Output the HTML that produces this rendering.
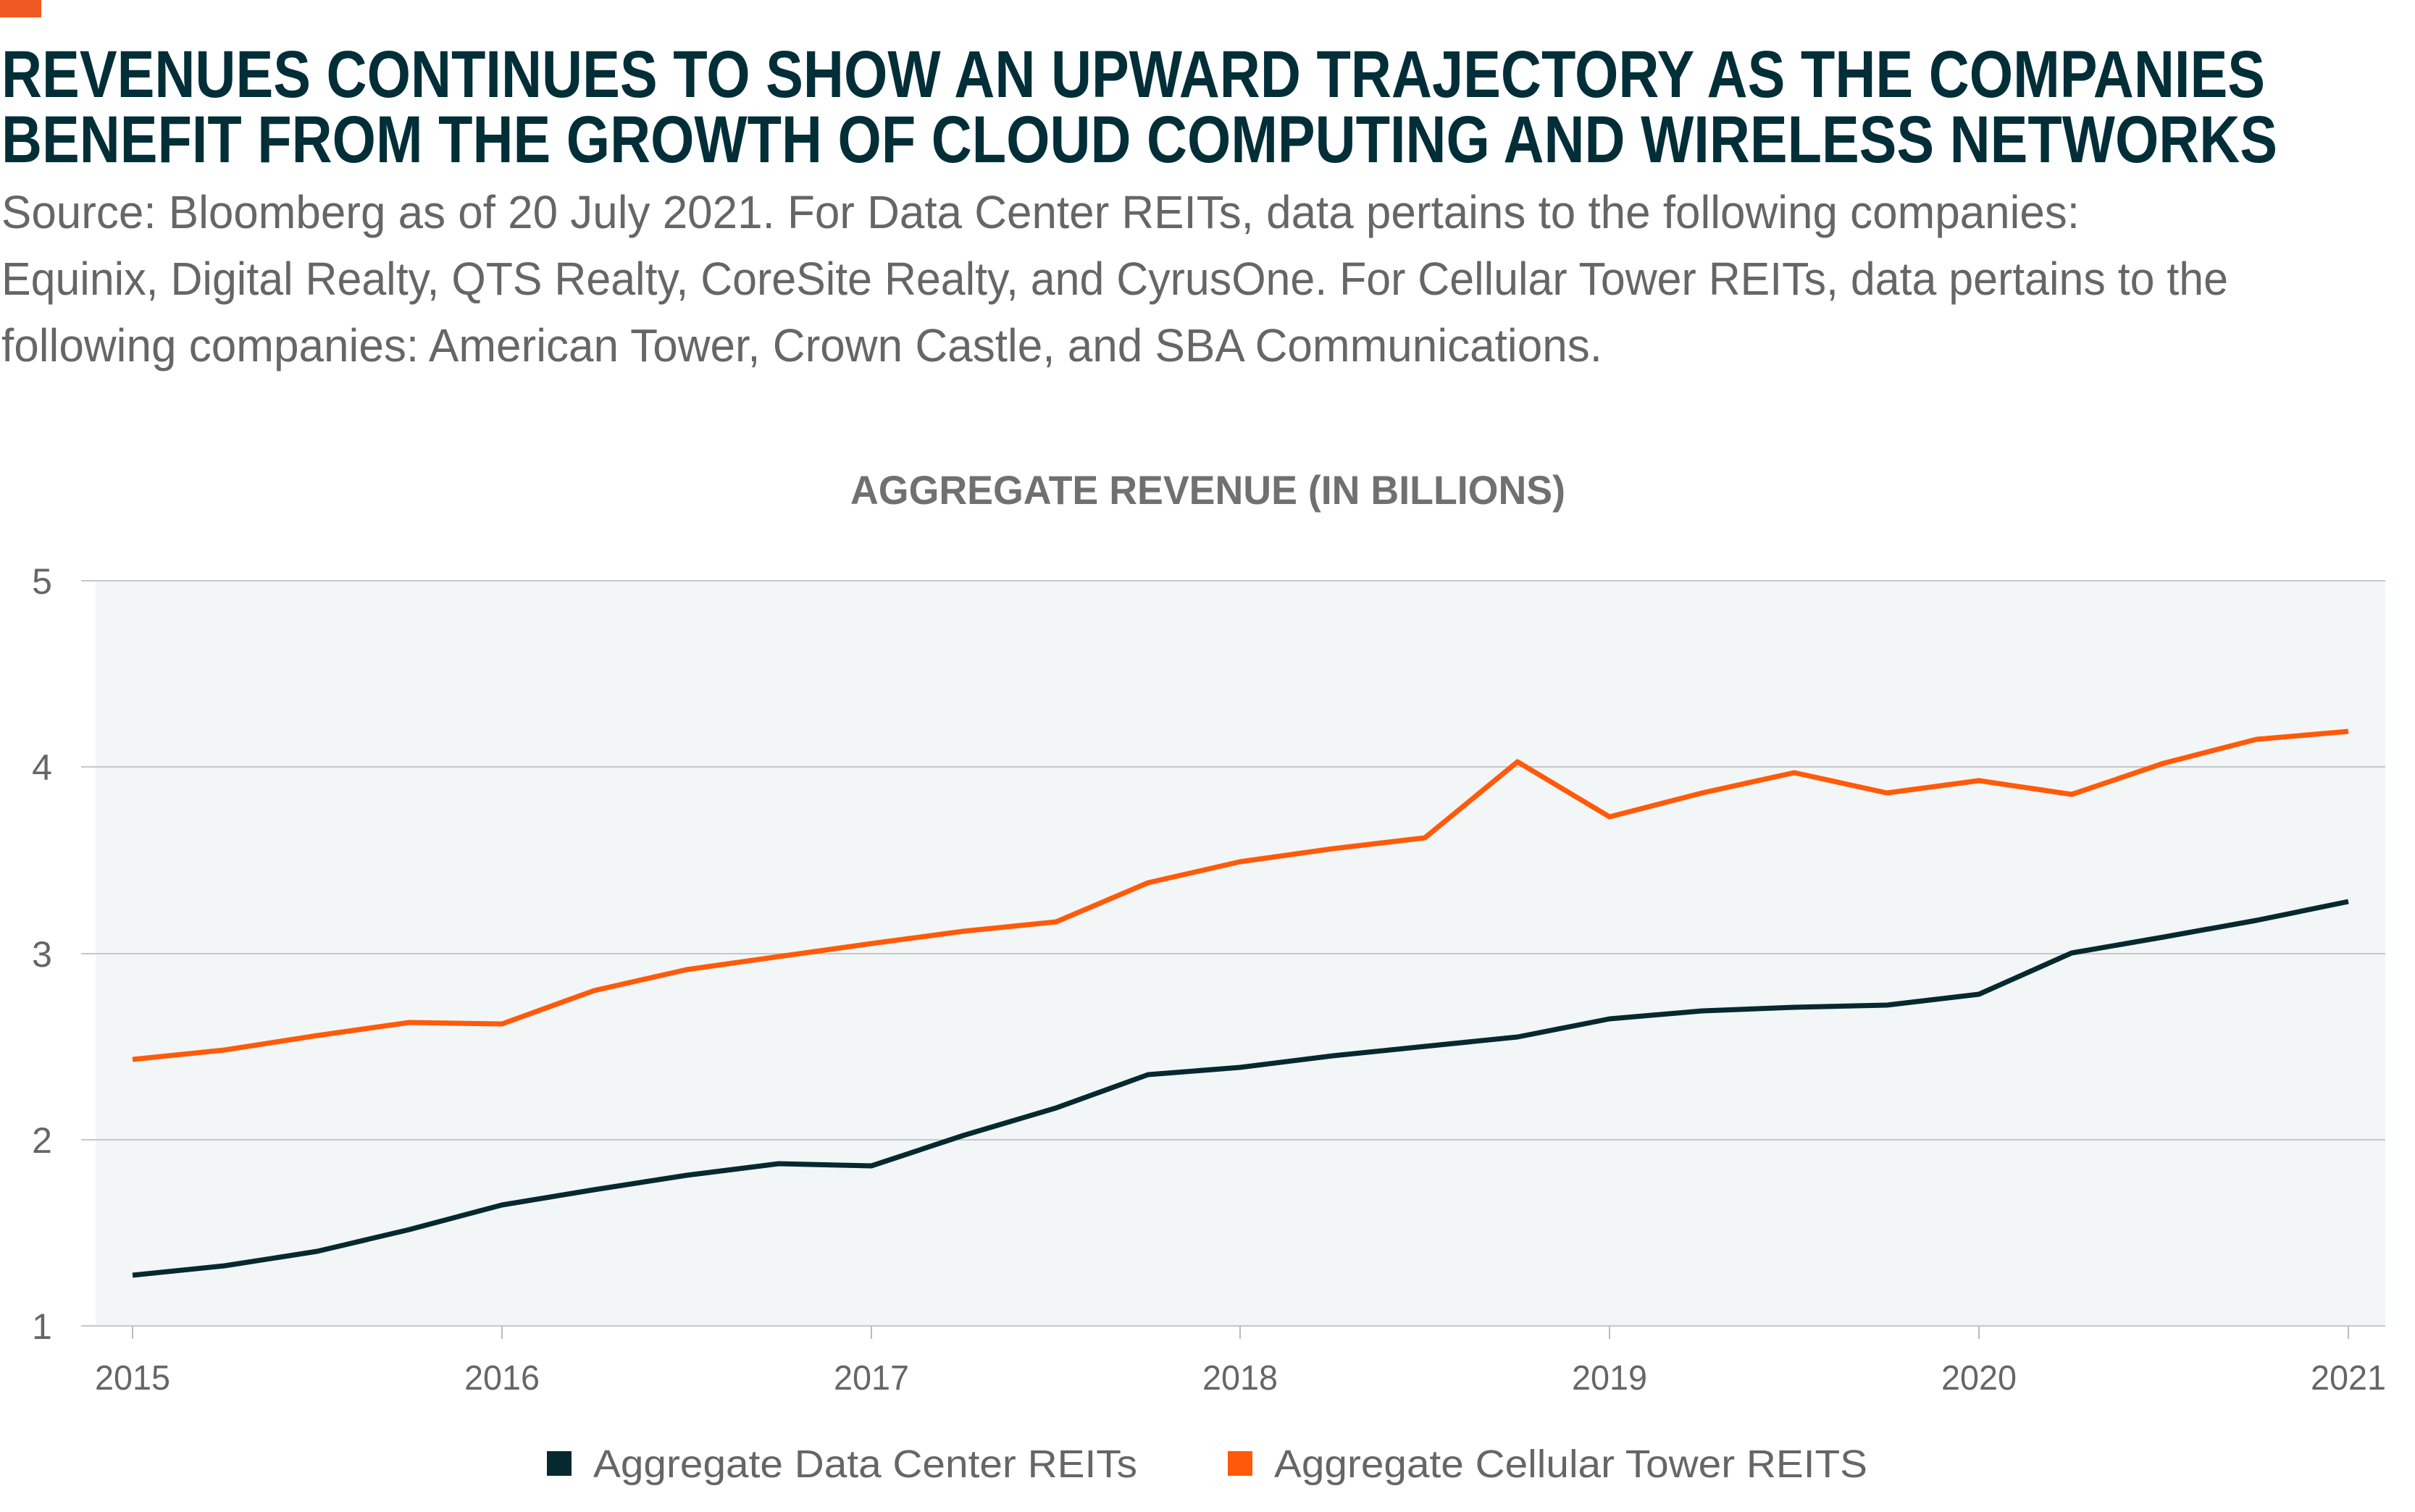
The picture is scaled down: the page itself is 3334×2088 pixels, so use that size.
<!DOCTYPE html>
<html><head><meta charset="utf-8"><style>
html,body{margin:0;padding:0;background:#fff;}
svg{display:block;}
text{font-family:"Liberation Sans",sans-serif;}
</style></head><body>
<svg width="3334" height="2088" viewBox="0 0 3334 2088" xmlns="http://www.w3.org/2000/svg">
<rect x="0" y="0" width="57" height="24" fill="#f05a22"/>
<g fill="#022e38" font-weight="bold" font-size="92">
<text x="2" y="134" textLength="3125" lengthAdjust="spacingAndGlyphs">REVENUES CONTINUES TO SHOW AN UPWARD TRAJECTORY AS THE COMPANIES</text>
<text x="2" y="224" textLength="3142" lengthAdjust="spacingAndGlyphs">BENEFIT FROM THE GROWTH OF CLOUD COMPUTING AND WIRELESS NETWORKS</text>
</g>
<g fill="#666" font-size="64">
<text x="2" y="315" textLength="2869" lengthAdjust="spacingAndGlyphs">Source: Bloomberg as of 20 July 2021. For Data Center REITs, data pertains to the following companies:</text>
<text x="2" y="407" textLength="3074" lengthAdjust="spacingAndGlyphs">Equinix, Digital Realty, QTS Realty, CoreSite Realty, and CyrusOne. For Cellular Tower REITs, data pertains to the</text>
<text x="2" y="499" textLength="2210" lengthAdjust="spacingAndGlyphs">following companies: American Tower, Crown Castle, and SBA Communications.</text>
</g>
<text x="1174" y="696" font-size="56" font-weight="bold" fill="#707070" textLength="987" lengthAdjust="spacingAndGlyphs">AGGREGATE REVENUE (IN BILLIONS)</text>
<rect x="132" y="802" width="3161" height="1029" fill="#f2f6f7"/>
<g stroke="#c4c8ca" stroke-width="2">
<line x1="112" y1="802" x2="3293" y2="802"/>
<line x1="112" y1="1059" x2="3293" y2="1059"/>
<line x1="112" y1="1317" x2="3293" y2="1317"/>
<line x1="112" y1="1574" x2="3293" y2="1574"/>
<line x1="112" y1="1831" x2="3293" y2="1831"/>
</g>
<g stroke="#bbb" stroke-width="2">
<line x1="183" y1="1831" x2="183" y2="1849"/><line x1="693" y1="1831" x2="693" y2="1849"/>
<line x1="1203" y1="1831" x2="1203" y2="1849"/><line x1="1712" y1="1831" x2="1712" y2="1849"/>
<line x1="2222" y1="1831" x2="2222" y2="1849"/><line x1="2732" y1="1831" x2="2732" y2="1849"/>
<line x1="3242" y1="1831" x2="3242" y2="1849"/>
</g>
<g fill="#666" font-size="50" text-anchor="middle">
<text x="58" y="820">5</text><text x="58" y="1077">4</text><text x="58" y="1335">3</text><text x="58" y="1592">2</text><text x="58" y="1849">1</text>
</g>
<g fill="#666" font-size="48" text-anchor="middle">
<text x="183" y="1919" textLength="104" lengthAdjust="spacingAndGlyphs">2015</text><text x="693" y="1919" textLength="104" lengthAdjust="spacingAndGlyphs">2016</text><text x="1203" y="1919" textLength="104" lengthAdjust="spacingAndGlyphs">2017</text>
<text x="1712" y="1919" textLength="104" lengthAdjust="spacingAndGlyphs">2018</text><text x="2222" y="1919" textLength="104" lengthAdjust="spacingAndGlyphs">2019</text><text x="2732" y="1919" textLength="104" lengthAdjust="spacingAndGlyphs">2020</text>
<text x="3242" y="1919" textLength="104" lengthAdjust="spacingAndGlyphs">2021</text>
</g>
<polyline fill="none" stroke="#ff5a0a" stroke-width="7" stroke-linejoin="round" points="183,1463 310,1450 438,1430 565,1412 693,1414 820,1368 948,1339 1075,1321 1203,1303 1330,1286 1458,1273 1585,1219 1712,1190 1840,1172 1967,1157 2095,1052 2222,1128 2350,1095 2477,1067 2605,1095 2732,1078 2860,1097 2987,1054 3115,1021 3242,1010"/>
<polyline fill="none" stroke="#06292f" stroke-width="7" stroke-linejoin="round" points="183,1761 310,1748 438,1728 565,1698 693,1664 820,1643 948,1623 1075,1607 1203,1610 1330,1568 1458,1530 1585,1484 1712,1474 1840,1458 1967,1445 2095,1432 2222,1407 2350,1396 2477,1391 2605,1388 2732,1373 2860,1316 2987,1294 3115,1271 3242,1245"/>
<rect x="755" y="2004" width="34" height="34" fill="#06292f"/>
<text x="819" y="2040" font-size="54" fill="#666" textLength="751" lengthAdjust="spacingAndGlyphs">Aggregate Data Center REITs</text>
<rect x="1695" y="2004" width="34" height="34" fill="#ff5a0a"/>
<text x="1759" y="2040" font-size="54" fill="#666" textLength="819" lengthAdjust="spacingAndGlyphs">Aggregate Cellular Tower REITS</text>
</svg>
</body></html>
